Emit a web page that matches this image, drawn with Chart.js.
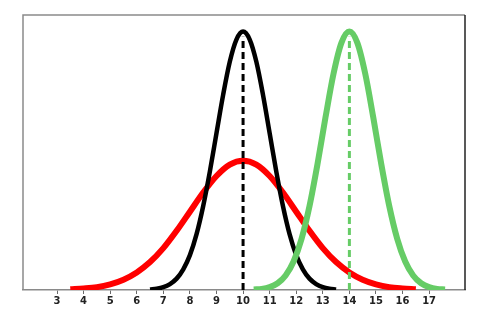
<!DOCTYPE html>
<html>
<head>
<meta charset="utf-8">
<script src="https://cdn.jsdelivr.net/npm/chart.js@4/dist/chart.umd.min.js"></script>
<style>
html,body{margin:0;padding:0;background:#fff;}
#wrap{width:500px;height:315px;position:relative;}
</style>
</head>
<body>
<div id="wrap"><canvas id="c" width="500" height="315"></canvas></div>
<script>
// Tick labels on the x axis
const tickValues = [3,4,5,6,7,8,9,10,11,12,13,14,15,16,17];

// Black curve (narrow, centred at 10)
const blackX = [6.5,6.75,7,7.25,7.5,7.75,8,8.25,8.5,8.75,9,9.25,9.5,9.75,10,10.25,10.5,10.75,11,11.25,11.5,11.75,12,12.25,12.5,12.75,13,13.25,13.5];
const blackY = [0.002,0.005,0.011,0.023,0.044,0.080,0.135,0.216,0.325,0.458,0.607,0.755,0.883,0.969,1.000,0.969,0.883,0.755,0.607,0.458,0.325,0.216,0.135,0.080,0.044,0.023,0.011,0.005,0.002];

// Red curve (wide, centred at 10)
const redX = [3.5,4,4.5,5,5.5,6,6.5,7,7.5,8,8.5,9,9.5,10,10.5,11,11.5,12,12.5,13,13.5,14,14.5,15,15.5,16,16.5];
const redY = [0.003,0.006,0.011,0.022,0.040,0.068,0.108,0.162,0.229,0.303,0.377,0.441,0.485,0.500,0.485,0.441,0.377,0.303,0.229,0.162,0.108,0.068,0.040,0.022,0.011,0.006,0.003];

// Green curve (narrow, centred at 14)
const greenX = [10.4,10.7,11,11.3,11.6,11.9,12.2,12.5,12.8,13.1,13.4,13.7,14,14.3,14.6,14.9,15.2,15.5,15.8,16.1,16.4,16.7,17,17.3,17.6];
const greenY = [0.002,0.004,0.011,0.026,0.056,0.110,0.198,0.325,0.487,0.667,0.835,0.956,1.000,0.956,0.835,0.667,0.487,0.325,0.198,0.110,0.056,0.026,0.011,0.004,0.002];

// Dashed mean markers
const blackMeanX = [10,10];
const blackMeanY = [0,0.98];
const greenMeanX = [14,14];
const greenMeanY = [0,0.98];

function pts(xs, ys){ return xs.map((x,i)=>({x:x,y:ys[i]})); }

const framePlugin = {
  id:'frame',
  afterDraw(chart){
    const a = chart.chartArea, ctx = chart.ctx;
    ctx.save();
    ctx.lineWidth = 1.5;
    ctx.strokeStyle = '#8a8a8a';
    ctx.beginPath();
    ctx.moveTo(a.left, a.bottom);
    ctx.lineTo(a.left, a.top);
    ctx.lineTo(a.right, a.top);
    ctx.stroke();
    ctx.strokeStyle = '#222';
    ctx.beginPath();
    ctx.moveTo(a.right, a.top);
    ctx.lineTo(a.right, a.bottom);
    ctx.stroke();
    ctx.restore();
  }
};

new Chart(document.getElementById('c'), {
  type:'line',
  data:{
    datasets:[
      {data:pts(blackMeanX,blackMeanY), borderColor:'#000', borderWidth:3, borderDash:[7,4], pointRadius:0, order:0},
      {data:pts(greenMeanX,greenMeanY), borderColor:'#66cc66', borderWidth:3, borderDash:[7,4], pointRadius:0, order:0},
      {data:pts(greenX,greenY), borderColor:'#66cc66', borderWidth:6, pointRadius:0, cubicInterpolationMode:'monotone', order:1},
      {data:pts(blackX,blackY), borderColor:'#000', borderWidth:4.5, pointRadius:0, cubicInterpolationMode:'monotone', order:2},
      {data:pts(redX,redY), borderColor:'#ff0000', borderWidth:6, pointRadius:0, cubicInterpolationMode:'monotone', order:3}
    ]
  },
  options:{
    responsive:false,
    animation:false,
    layout:{padding:{left:23,top:15,right:35,bottom:7}},
    plugins:{legend:{display:false},tooltip:{enabled:false}},
    scales:{
      x:{
        type:'linear', min:1.72, max:18.35,
        afterBuildTicks(scale){ scale.ticks = tickValues.map(v=>({value:v})); },
        ticks:{autoSkip:false, maxRotation:0, padding:1, color:'#222', font:{family:'DejaVu Sans', size:10, weight:'bold'},
          callback:(v)=>String(v)},
        grid:{drawOnChartArea:false, drawTicks:true, tickLength:4, color:'#6a6a6a', lineWidth:1},
        border:{display:true, color:'#8a8a8a', width:1.5}
      },
      y:{display:false, min:0, max:1.064}
    }
  },
  plugins:[framePlugin]
});
</script>
</body>
</html>
